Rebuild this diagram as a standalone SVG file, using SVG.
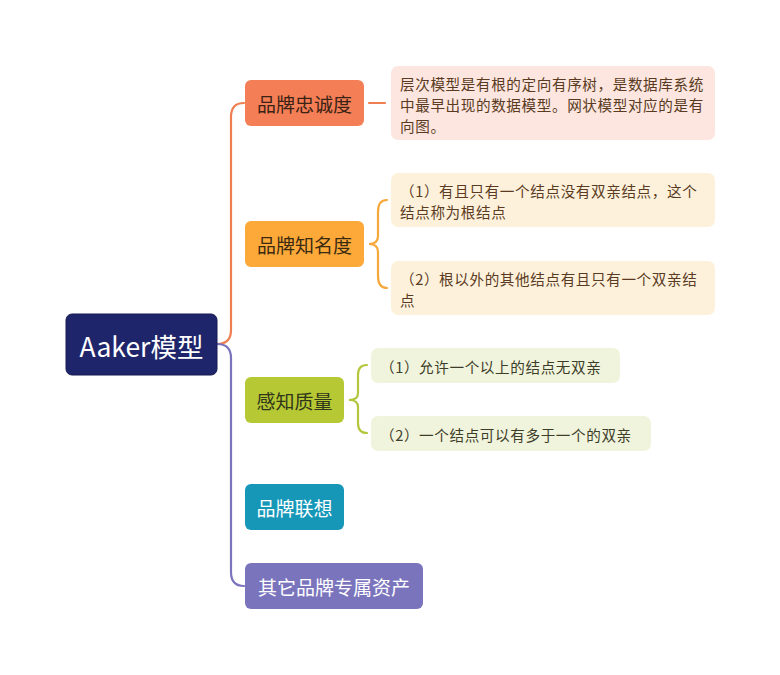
<svg xmlns="http://www.w3.org/2000/svg" width="780" height="675" viewBox="0 0 780 675">
<style>
text{font-family:"Noto Sans CJK SC","Noto Sans",sans-serif;}
.n{font-size:19px;dominant-baseline:central;}
.c{font-size:14.6px;letter-spacing:0.6px;fill:#5a3b22;dominant-baseline:central;}
.g{font-size:14.6px;letter-spacing:0.6px;fill:#3d3d2a;dominant-baseline:central;}
.ln{fill:none;stroke-width:2.2;stroke-linecap:round;}
</style>
<rect width="780" height="675" fill="#ffffff"/>
<g id="connectors">
<path class="ln" stroke="#ef7f52" d="M217,344 Q231,344 231,330 L231,117 Q231,103 244,103"/>
<path class="ln" stroke="#7b74bd" d="M217,344 Q231,344 231,358 L231,572 Q231,586 244,586"/>
<path class="ln" stroke="#ef7f52" d="M369,103 L385,103"/>
<path class="ln" stroke="#f6a83a" d="M387,200 Q378,200 378,212 L378,236 Q378,244 369,244 Q378,244 378,252 L378,276 Q378,288 387,288"/>
<path class="ln" stroke="#b3c63c" d="M367,365 Q358,365 358,375 L358,393 Q358,400 349,400 Q358,400 358,407 L358,423 Q358,433 367,433"/>
</g>
<g id="root">
<rect x="66" y="314" width="151" height="61" rx="6" fill="#1f256a" stroke="#161a50" stroke-width="1"/>
<text x="141.5" y="345" font-size="26.5" fill="#ffffff" text-anchor="middle" dominant-baseline="central">Aaker模型</text>
</g>
<g id="n-loyalty">
<rect x="245" y="80" width="119" height="46" rx="6" fill="#f47e56"/>
<text class="n" x="304.5" y="103" text-anchor="middle" fill="#3a2214">品牌忠诚度</text>
</g>
<g id="n-awareness">
<rect x="245" y="221" width="119" height="46" rx="6" fill="#fca93a"/>
<text class="n" x="304.5" y="244" text-anchor="middle" fill="#3a2a10">品牌知名度</text>
</g>
<g id="n-quality">
<rect x="245" y="377" width="99" height="46" rx="6" fill="#b6c934"/>
<text class="n" x="294.5" y="400" text-anchor="middle" fill="#30361a">感知质量</text>
</g>
<g id="n-association">
<rect x="245" y="484" width="99" height="46" rx="6" fill="#1697b8"/>
<text class="n" x="294.5" y="507" text-anchor="middle" fill="#ffffff">品牌联想</text>
</g>
<g id="n-assets">
<rect x="245" y="563" width="178" height="46" rx="6" fill="#7a74bd"/>
<text class="n" x="334" y="586" text-anchor="middle" fill="#ffffff">其它品牌专属资产</text>
</g>
<g id="c-loyalty">
<rect x="391" y="66" width="324" height="74" rx="7" fill="#fde6df"/>
<text class="c" x="400" y="83">层次模型是有根的定向有序树，是数据库系统</text>
<text class="c" x="400" y="104">中最早出现的数据模型。网状模型对应的是有</text>
<text class="c" x="400" y="125">向图。</text>
</g>
<g id="c-awareness-1">
<rect x="391" y="173" width="324" height="54" rx="7" fill="#fef1dc"/>
<text class="c" x="400" y="190">（1）有且只有一个结点没有双亲结点，这个</text>
<text class="c" x="400" y="211">结点称为根结点</text>
</g>
<g id="c-awareness-2">
<rect x="391" y="261" width="324" height="54" rx="7" fill="#fef1dc"/>
<text class="c" x="400" y="278">（2）根以外的其他结点有且只有一个双亲结</text>
<text class="c" x="400" y="299">点</text>
</g>
<g id="c-quality-1">
<rect x="371" y="348" width="249" height="35" rx="7" fill="#f1f4dc"/>
<text class="g" x="380" y="366">（1）允许一个以上的结点无双亲</text>
</g>
<g id="c-quality-2">
<rect x="371" y="416" width="280" height="35" rx="7" fill="#f1f4dc"/>
<text class="g" x="380" y="434">（2）一个结点可以有多于一个的双亲</text>
</g>
</svg>
